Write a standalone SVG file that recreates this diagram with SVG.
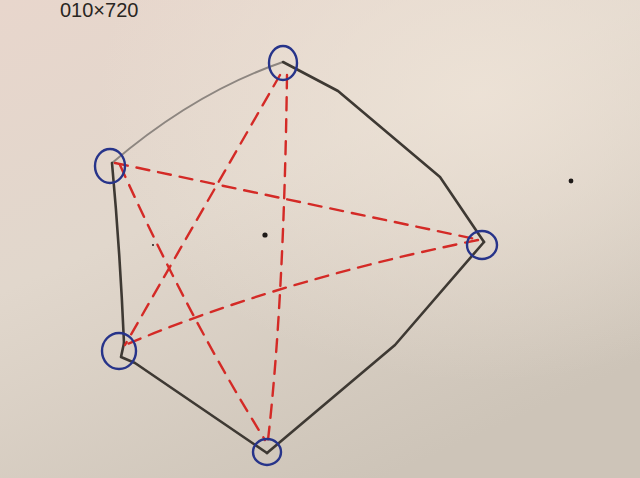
<svg xmlns="http://www.w3.org/2000/svg" width="640" height="478" viewBox="0 0 640 478">
<defs>
<linearGradient id="bg" x1="0" y1="0" x2="0.6" y2="1">
<stop offset="0" stop-color="#e8d6cc"/>
<stop offset="0.45" stop-color="#e1d7cc"/>
<stop offset="1" stop-color="#cdc4b8"/>
</linearGradient>
<radialGradient id="glow" cx="0.75" cy="0.2" r="0.6">
<stop offset="0" stop-color="#efe4d8" stop-opacity="0.8"/>
<stop offset="1" stop-color="#efe4d8" stop-opacity="0"/>
</radialGradient>
<style>
.edge{fill:none;stroke:#3e3933;stroke-width:2.6;stroke-linecap:round;stroke-linejoin:round}
.light{stroke:#8d8680;stroke-width:2}
.diag{fill:none;stroke:#d42a26;stroke-width:2.4;stroke-dasharray:13 9;stroke-linecap:round}
.ring{fill:none;stroke:#27348a;stroke-width:2.4}
.dot{fill:#1e1a18}
.note{font-family:"Liberation Sans",Arial,sans-serif;font-size:20px;fill:#2a2622}
</style>
</defs>
<rect width="640" height="478" fill="url(#bg)"/>
<rect width="640" height="478" fill="url(#glow)"/>
<text class="note" x="60" y="17">010×720</text>
<g id="connectors">
<path class="edge light" d="M112,163 Q195,92 283,62"/>
<path class="edge" d="M283,62 L338,91 L440,177 L484,242"/>
<path class="edge" d="M484,242 L395,345 L267,453"/>
<path class="edge" d="M267,453 L135,363 L121,357 L124,343"/>
<path class="edge" d="M124,343 Q120,250 112,163"/>
<path class="diag" d="M280,75 L125,345"/>
<path class="diag" d="M287,75 Q284,300 268,440"/>
<path class="diag" d="M115,163 L480,240"/>
<path class="diag" d="M120,165 Q190,320 265,440"/>
<path class="diag" d="M478,240 Q280,280 125,345"/>
</g>
<g id="nodeA"><ellipse class="ring" cx="283" cy="63" rx="14" ry="17"/></g>
<g id="nodeB"><ellipse class="ring" cx="110" cy="166" rx="15" ry="17"/></g>
<g id="nodeC"><ellipse class="ring" cx="482" cy="245" rx="15" ry="14"/></g>
<g id="nodeD"><ellipse class="ring" cx="119" cy="351" rx="17" ry="18"/></g>
<g id="nodeE"><ellipse class="ring" cx="267" cy="452" rx="14" ry="13"/></g>
<circle class="dot" cx="265" cy="235" r="2.6"/>
<circle class="dot" cx="571" cy="181" r="2.4"/>
<circle class="dot" cx="153" cy="245" r="1"/>
</svg>
